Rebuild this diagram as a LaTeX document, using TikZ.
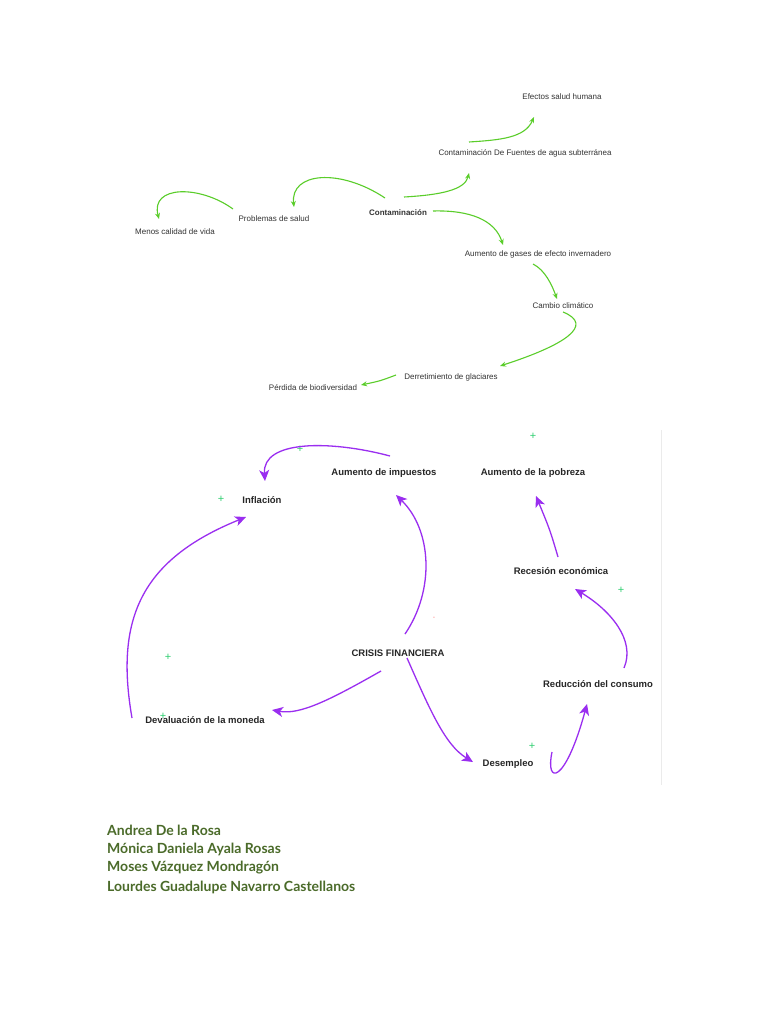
\documentclass[tikz,border=0pt]{standalone}
\usepackage{fontspec}
\setmainfont{Liberation Sans}
\newfontfamily\latofont{Lato}
\usetikzlibrary{arrows.meta}
\definecolor{gr}{HTML}{5ACD2A}
\definecolor{pu}{HTML}{9A2EF0}
\definecolor{pl}{HTML}{2FCF70}
\definecolor{nm}{HTML}{4B6B2A}
\begin{document}
\begin{tikzpicture}[x=1pt,y=-1pt,
 t/.style={inner sep=1pt,font=\fontsize{8}{9}\selectfont,text=black!80},
 b/.style={inner sep=1pt,font=\fontsize{9.5}{10}\selectfont\bfseries,text=black!85},
 ga/.style={draw=gr,line width=1.1pt,-{Stealth[length=6pt,width=5pt]}},
 pa/.style={draw=pu,line width=1.3pt,-{Stealth[length=11pt,width=10pt,inset=3pt]}},
 pls/.style={text=pl,font=\fontsize{11}{11}\selectfont,inner sep=0pt},
 nmst/.style={anchor=west,inner sep=0pt,text=nm,font=\latofont\bfseries\fontsize{14}{16}\selectfont}]
\useasboundingbox[fill=white] (0,0) rectangle (768,1024);
% top
\node[t] (ef) at (562,97) {Efectos salud humana};
\node[t] (fu) at (525,153) {Contaminación De Fuentes de agua subterránea};
\node[t,font=\fontsize{8}{9}\selectfont\bfseries] (co) at (398,213) {Contaminación};
\node[t] (ps) at (274,219) {Problemas de salud};
\node[t] (mc) at (175,232) {Menos calidad de vida};
\node[t] (ag) at (538,254) {Aumento de gases de efecto invernadero};
\node[t] (cc) at (563,306) {Cambio climático};
\node[t] (dg) at (451,377) {Derretimiento de glaciares};
\node[t] (pb) at (313,388) {Pérdida de biodiversidad};
\coordinate (c1) at (385,198); \coordinate (c1e) at (294,207);
\coordinate (c2) at (233,209); \coordinate (c2e) at (159,219);
\coordinate (c3) at (404,197); \coordinate (c3e) at (469,173);
\coordinate (c4) at (469,142); \coordinate (c4e) at (534,117);
\coordinate (c5) at (433,211); \coordinate (c5e) at (503,245);
\coordinate (c6) at (533,264); \coordinate (c6e) at (557,299);
\coordinate (c7) at (563,312); \coordinate (c7e) at (500,366);
\coordinate (c8) at (396,375); \coordinate (c8e) at (361,385);
\draw[ga] (c1) .. controls (340,168) and (290,172) .. (c1e);
\draw[ga] (c2) .. controls (200,185) and (150,185) .. (c2e);
\draw[ga] (c3) .. controls (440,195) and (465,190) .. (c3e);
\draw[ga] (c4) .. controls (500,140) and (525,138) .. (c4e);
\draw[ga] (c5) .. controls (470,210) and (495,220) .. (c5e);
\draw[ga] (c6) .. controls (545,270) and (552,285) .. (c6e);
\draw[ga] (c7) .. controls (595,325) and (565,345) .. (c7e);
\draw[ga] (c8) .. controls (380,381) .. (c8e);
% bottom
\node[b] (ai) at (384,473) {Aumento de impuestos};
\node[b] (ap) at (533,473) {Aumento de la pobreza};
\node[b] (in) at (262,500) {Inflación};
\node[b] (re) at (561,571) {Recesión económica};
\node[b] (cf) at (398,653) {CRISIS FINANCIERA};
\node[b] (rc) at (598,684) {Reducción del consumo};
\node[b] (dm) at (205,720) {Devaluación de la moneda};
\node[b] (de) at (508,764) {Desempleo};
\foreach \p/\x/\y in {p1/533/436,p2/300/449,p3/221/499,p4/621/590,p5/168/657,p6/163/716,p7/532/746}
  \node[pls] (\p) at (\x,\y) {+};
\node[text=red!50,font=\fontsize{7}{7}\selectfont,inner sep=0pt] (mi) at (434,618) {-};
\coordinate (d1) at (390,456); \coordinate (d1e) at (265,481);
\coordinate (d2) at (405,634); \coordinate (d2e) at (396,495);
\coordinate (d3) at (132,718); \coordinate (d3e) at (246,517);
\coordinate (d4) at (381,671); \coordinate (d4e) at (272,710);
\coordinate (d5) at (407,658); \coordinate (d5e) at (473,762);
\coordinate (d6) at (552,752); \coordinate (d6e) at (587,704);
\coordinate (d7) at (624,668); \coordinate (d7e) at (575,589);
\coordinate (d8) at (558,557); \coordinate (d8e) at (536,496);
\draw[pa] (d1) .. controls (330,440) and (262,440) .. (d1e);
\draw[pa] (d2) .. controls (435,590) and (432,530) .. (d2e);
\draw[pa] (d3) .. controls (115,620) and (140,560) .. (d3e);
\draw[pa] (d4) .. controls (330,700) and (300,715) .. (d4e);
\draw[pa] (d5) .. controls (430,710) and (445,745) .. (d5e);
\draw[pa] (d6) .. controls (545,785) and (565,785) .. (d6e);
\draw[pa] (d7) .. controls (636,640) and (610,610) .. (d7e);
\draw[pa] (d8) .. controls (550,530) .. (d8e);
\draw[black!8] (661,430) -- (661,785);
% names
\node[nmst] (n1) at (107,830) {Andrea De la Rosa};
\node[nmst] (n2) at (107,849) {Mónica Daniela Ayala Rosas};
\node[nmst] (n3) at (107,868) {Moses Vázquez Mondragón};
\node[nmst] (n4) at (107,887) {Lourdes Guadalupe Navarro Castellanos};
\end{tikzpicture}
\end{document}
